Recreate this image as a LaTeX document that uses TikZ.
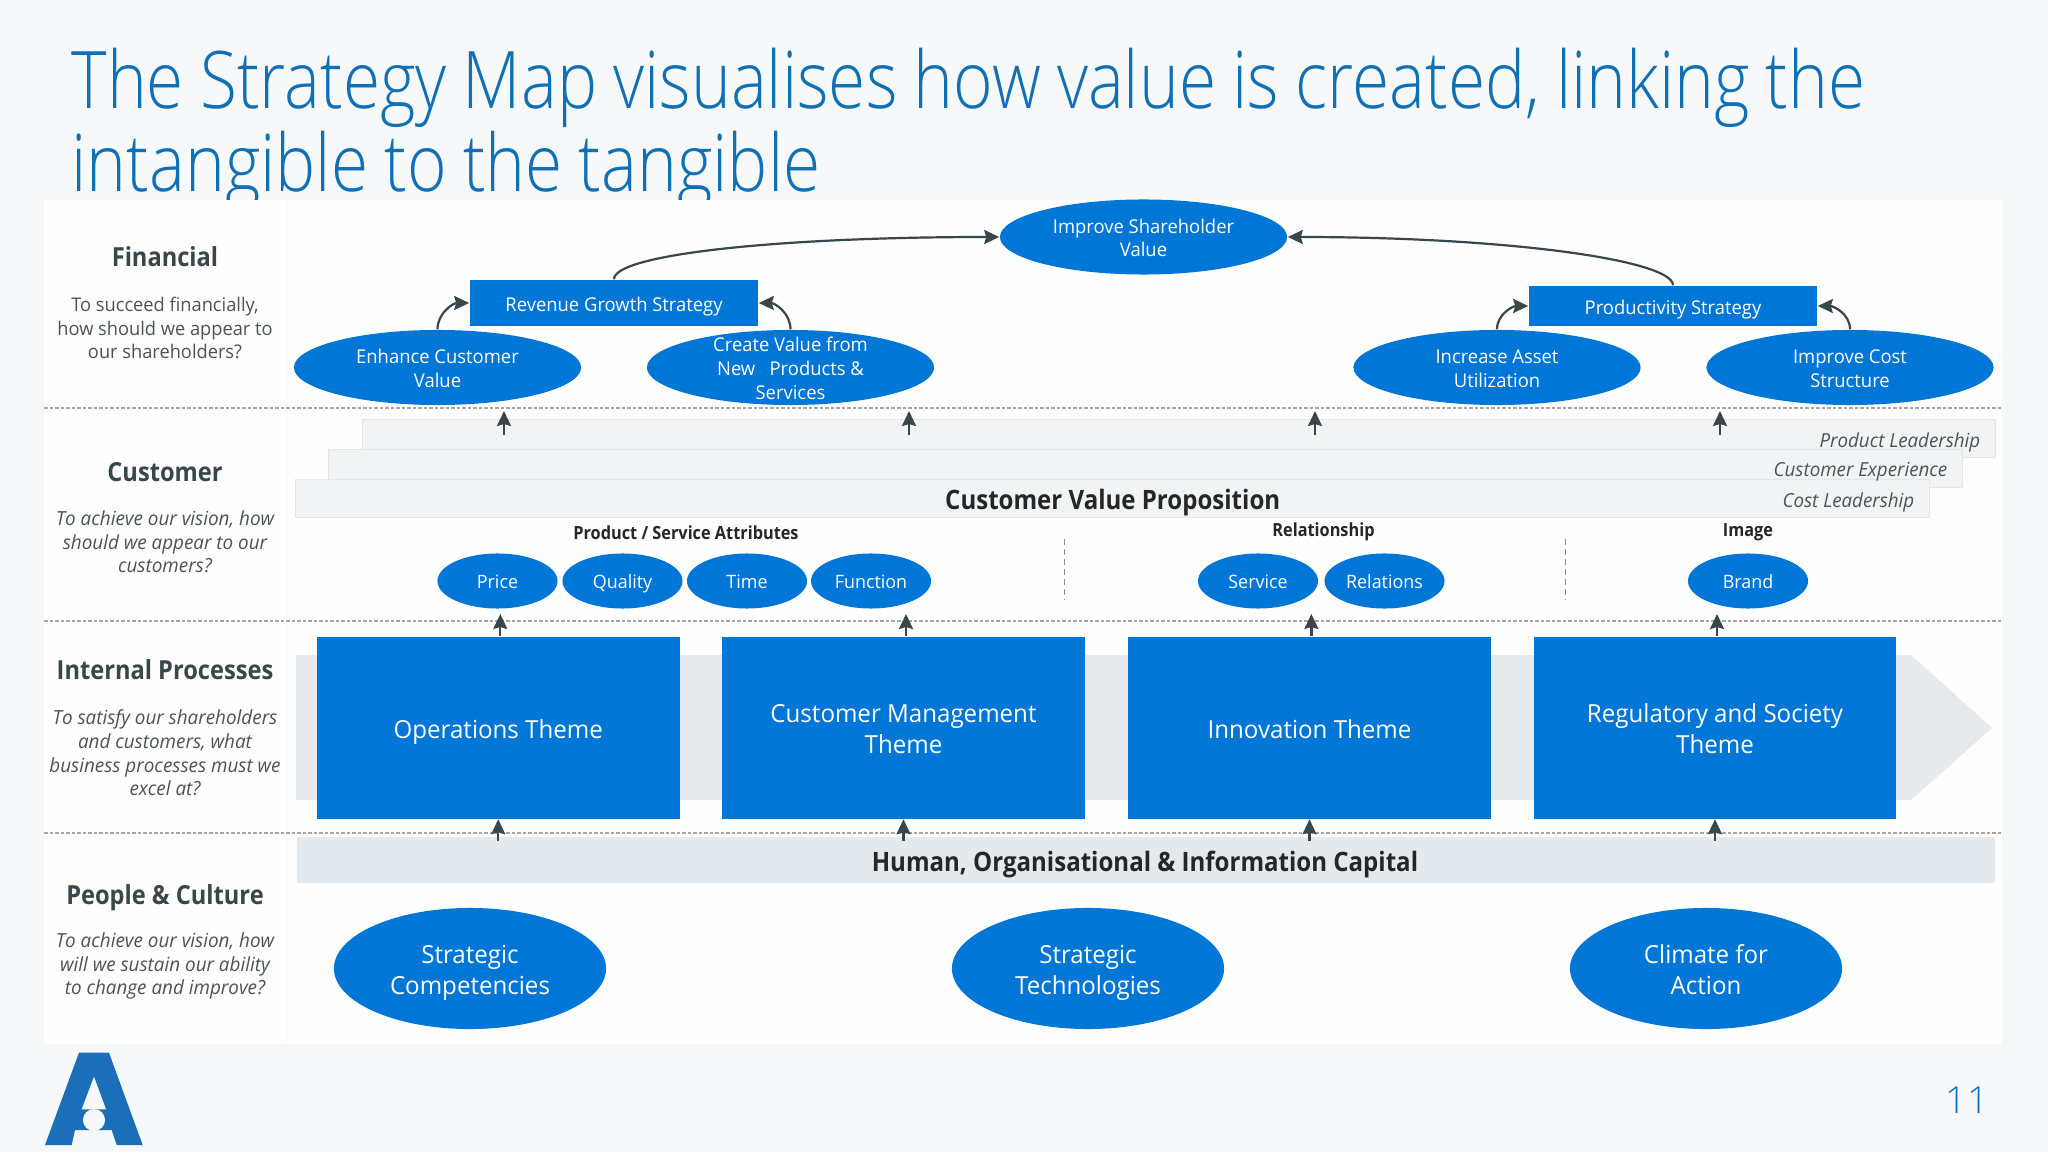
\documentclass[tikz,border=0pt]{standalone}
\usepackage{fontspec}
\setmainfont{Open Sans}[FakeStretch=0.97]
\newfontfamily\lightfont{Open Sans Light}[FakeStretch=0.85, WordSpace=0.93]
\newfontfamily\numberfont{Open Sans Light}
\newfontfamily\headfont{Open Sans}[FakeStretch=0.9]
\usetikzlibrary{shapes.geometric,arrows.meta}
\definecolor{pagegrey}{HTML}{F7F8FA}
\definecolor{panelwhite}{HTML}{FEFEFE}
\definecolor{mapblue}{HTML}{0076D7}
\definecolor{titleblue}{HTML}{0F70B5}
\definecolor{logoblue}{HTML}{1B6FB8}
\definecolor{inkdark}{HTML}{37474A}
\definecolor{inkbody}{HTML}{4A5356}
\definecolor{bandgrey}{HTML}{F2F3F4}
\definecolor{bandline}{HTML}{E3E5E7}
\definecolor{chevrongrey}{HTML}{E6EAEC}
\definecolor{capitalgrey}{HTML}{E4E9ED}
\tikzset{
  oval/.style={ellipse, fill=mapblue, text=white, inner sep=0pt, align=center},
  bigoval/.style={oval, text height=4.45mm, text depth=0.5mm, minimum width=2.87cm, minimum height=0.75cm, font=\fontsize{5.4}{6.7}\selectfont},
  tinyoval/.style={oval, text height=1.95mm, text depth=0.5mm, minimum width=1.2cm, minimum height=0.55cm, font=\fontsize{5.25}{6.7}\selectfont},
  hugeoval/.style={oval, text height=5.76mm, text depth=0.6mm, minimum width=2.72cm, minimum height=1.21cm, font=\fontsize{7.07}{8.7}\selectfont},
  strategybox/.style={rectangle, text height=2.1mm, text depth=0.5mm, fill=mapblue, text=white, inner sep=0pt, minimum width=2.88cm, font=\fontsize{5.4}{6.7}\selectfont},
  themebox/.style={rectangle, text height=5.76mm, text depth=0.6mm, fill=mapblue, text=white, inner sep=0pt, align=center, minimum width=3.625cm, minimum height=1.815cm, font=\fontsize{7.07}{8.7}\selectfont},
  band/.style={rectangle, fill=bandgrey, draw=bandline, line width=0.1mm, inner sep=0pt, minimum width=16.33cm, minimum height=0.37cm},
  bandtext/.style={anchor=east, inner sep=0pt, text=inkbody, font=\fontsize{5.5}{6}\selectfont\itshape},
  sidehead/.style={inner sep=0pt, text=inkdark, font=\fontsize{7.47}{8}\selectfont\headfont\bfseries},
  sidetext/.style={inner sep=0pt, align=center, text=inkbody, font=\fontsize{5.35}{6.7}\selectfont},
  sideitalic/.style={sidetext, font=\fontsize{5.53}{6.7}\selectfont\itshape},
  subhead/.style={inner sep=0pt, text=black!85, font=\fontsize{5.15}{6}\selectfont\headfont\bfseries},
  bandhead/.style={inner sep=0pt, text=black!85, font=\fontsize{7.6}{9}\selectfont\headfont\bfseries},
  flow/.style={draw=inkdark, line width=0.22mm, -{Stealth[length=1.5mm,width=1.4mm,inset=0.2mm]}},
  divider/.style={draw=black!35, line width=0.17mm, dash pattern=on 0.35mm off 0.2mm},
  tick/.style={draw=black!45, line width=0.1mm, dash pattern=on 0.6mm off 0.4mm}
}
\begin{document}
\begin{tikzpicture}[x=0.01cm, y=-0.01cm]
\useasboundingbox (0,0) rectangle (2048,1152);
\fill[pagegrey] (0,0) rectangle (2048,1152);
\node[inner sep=0pt, anchor=north west, align=left, text=titleblue, font=\fontsize{22.6}{23.5}\selectfont\lightfont] (title) at (71,47.5) {The Strategy Map visualises how value is created, linking the\\intangible to the tangible};
\fill[panelwhite] (44,200) rectangle (2002,1044);
\draw[pagegrey, line width=0.1mm] (287,200) -- (287,1044);
\draw[divider] (44,408) -- (2002,408);
\draw[divider] (44,621) -- (2002,621);
\draw[divider] (44,833) -- (2002,833);
\node[sidehead] (financialhead) at (165,257) {Financial};
\node[sidetext] (financialtext) at (165,328) {To succeed financially,\\how should we appear to\\our shareholders?};
\node[sidehead] (customerhead) at (165,472) {Customer};
\node[sideitalic] (customertext) at (165,542) {To achieve our vision, how\\should we appear to our\\customers?};
\node[sidehead] (internalhead) at (165,670) {Internal Processes};
\node[sideitalic] (internaltext) at (165,753) {To satisfy our shareholders\\and customers, what\\business processes must we\\excel at?};
\node[sidehead] (peoplehead) at (165,897.5) {People \& Culture};
\node[sideitalic] (peopletext) at (165,966) {To achieve our vision, how\\will we sustain our ability\\to change and improve?};
\node[bigoval] (shareholder) at (1143.5,237) {Improve Shareholder\\Value};
\node[strategybox, minimum height=0.46cm] (revenue) at (614,303) {Revenue Growth Strategy};
\node[strategybox, minimum height=0.40cm] (productivity) at (1673,306) {Productivity Strategy};
\node[bigoval] (enhance) at (437.5,367.5) {Enhance Customer\\Value};
\node[oval, minimum width=2.87cm, minimum height=0.75cm, label={[text=white, align=center, inner sep=0pt, text height=6.8mm, text depth=0.5mm, font=\fontsize{5.4}{6.7}\selectfont]center:Create Value from\\New\ \ \ Products \&\\Services}] (create) at (790.5,367.5) {};
\node[bigoval] (asset) at (1497,367.5) {Increase Asset\\Utilization};
\node[bigoval] (cost) at (1850,367.5) {Improve Cost\\Structure};
\draw[flow] (revenue.north) to[out=90, in=180, out distance=0.25cm, in distance=2.2cm] (shareholder.west);
\draw[flow] (productivity.north) to[out=90, in=0, out distance=0.25cm, in distance=2.2cm] (shareholder.east);
\draw[flow] (enhance.north) to[out=90, in=180] (revenue.west);
\draw[flow] (create.north) to[out=90, in=0] (revenue.east);
\draw[flow] (asset.north) to[out=90, in=180] (productivity.west);
\draw[flow] (cost.north) to[out=90, in=0] (productivity.east);
\node[band] (productband) at (1179,438.5) {};
\node[band] (experienceband) at (1145.8,468.5) {};
\node[band] (costband) at (1112.5,498.5) {};
\node[bandtext] (productlabel) at (1981,442) {Product Leadership};
\node[bandtext] (experiencelabel) at (1948,472) {Customer Experience};
\node[bandtext] (costlabel) at (1915,502) {Cost Leadership};
\node[bandhead] (valuehead) at (1112.7,503) {Customer Value Proposition};
\coordinate (uplow1) at (504,435);
\coordinate (uphigh1) at (504,411);
\coordinate (uplow2) at (909,435);
\coordinate (uphigh2) at (909,411);
\coordinate (uplow3) at (1315,435);
\coordinate (uphigh3) at (1315,411);
\coordinate (uplow4) at (1720,435);
\coordinate (uphigh4) at (1720,411);
\draw[flow] (uplow1) -- (uphigh1);
\draw[flow] (uplow2) -- (uphigh2);
\draw[flow] (uplow3) -- (uphigh3);
\draw[flow] (uplow4) -- (uphigh4);
\node[subhead] (attributes) at (686,533) {Product / Service Attributes};
\node[subhead] (relationship) at (1323.5,532) {Relationship};
\node[subhead] (image) at (1748,532) {Image};
\node[tinyoval] (price) at (497.5,581) {Price};
\node[tinyoval] (quality) at (622.5,581) {Quality};
\node[tinyoval] (time) at (747,581) {Time};
\node[tinyoval] (function) at (871,581) {Function};
\node[tinyoval] (service) at (1258,581) {Service};
\node[tinyoval] (relations) at (1384.5,581) {Relations};
\node[tinyoval] (brand) at (1748,581) {Brand};
\draw[tick] (1064.5,539) -- (1064.5,600);
\draw[tick] (1565.5,539) -- (1565.5,600);
\fill[chevrongrey] (296,655) -- (1904,655) -- (1911,655) -- (1992,728) -- (1911,800) -- (296,800) -- cycle;
\node[themebox, text height=2.7mm] (operations) at (498.25,727.75) {Operations Theme};
\node[themebox] (management) at (903.5,727.75) {Customer Management\\Theme};
\node[themebox, text height=2.7mm] (innovation) at (1309.5,727.75) {Innovation Theme};
\node[themebox] (regulatory) at (1715,727.75) {Regulatory and Society\\Theme};
\coordinate (themetop1) at (500.3,614);
\coordinate (themetop2) at (906,614);
\coordinate (themetop3) at (1311.4,614);
\coordinate (themetop4) at (1717,614);
\draw[flow] (operations.north -| themetop1) -- (themetop1);
\draw[flow] (management.north -| themetop2) -- (themetop2);
\draw[flow] (innovation.north -| themetop3) -- (themetop3);
\draw[flow] (regulatory.north -| themetop4) -- (themetop4);
\node[rectangle, fill=capitalgrey, inner sep=0pt, minimum width=16.97cm, minimum height=0.46cm] (capital) at (1145.5,859.7) {};
\node[bandhead] (capitalhead) at (1145,864) {Human, Organisational \& Information Capital};
\coordinate (themefoot1) at (498.25,841);
\coordinate (themefoot2) at (903.5,841);
\coordinate (themefoot3) at (1309.5,841);
\coordinate (themefoot4) at (1715,841);
\draw[flow] (themefoot1) -- (operations.south);
\draw[flow] (themefoot2) -- (management.south);
\draw[flow] (themefoot3) -- (innovation.south);
\draw[flow] (themefoot4) -- (regulatory.south);
\node[hugeoval] (competencies) at (470,968.5) {Strategic\\Competencies};
\node[hugeoval] (technologies) at (1088,968.5) {Strategic\\Technologies};
\node[hugeoval] (climate) at (1706,968.5) {Climate for\\Action};
\fill[logoblue] (79,1052.7) -- (109,1052.7) -- (142.7,1145) -- (116.7,1145) -- (111.7,1130) -- (75,1130) -- (71.7,1145) -- (45,1145) -- cycle;
\fill[pagegrey] (94,1076.7) -- (106,1109.3) -- (81.7,1109.3) -- cycle;
\fill[pagegrey] (94,1120) circle (0.11cm);
\node[inner sep=0pt, text=titleblue, font=\fontsize{10.6}{12}\selectfont\numberfont] (pagenumber) at (1967,1100) {11};
\end{tikzpicture}
\end{document}
